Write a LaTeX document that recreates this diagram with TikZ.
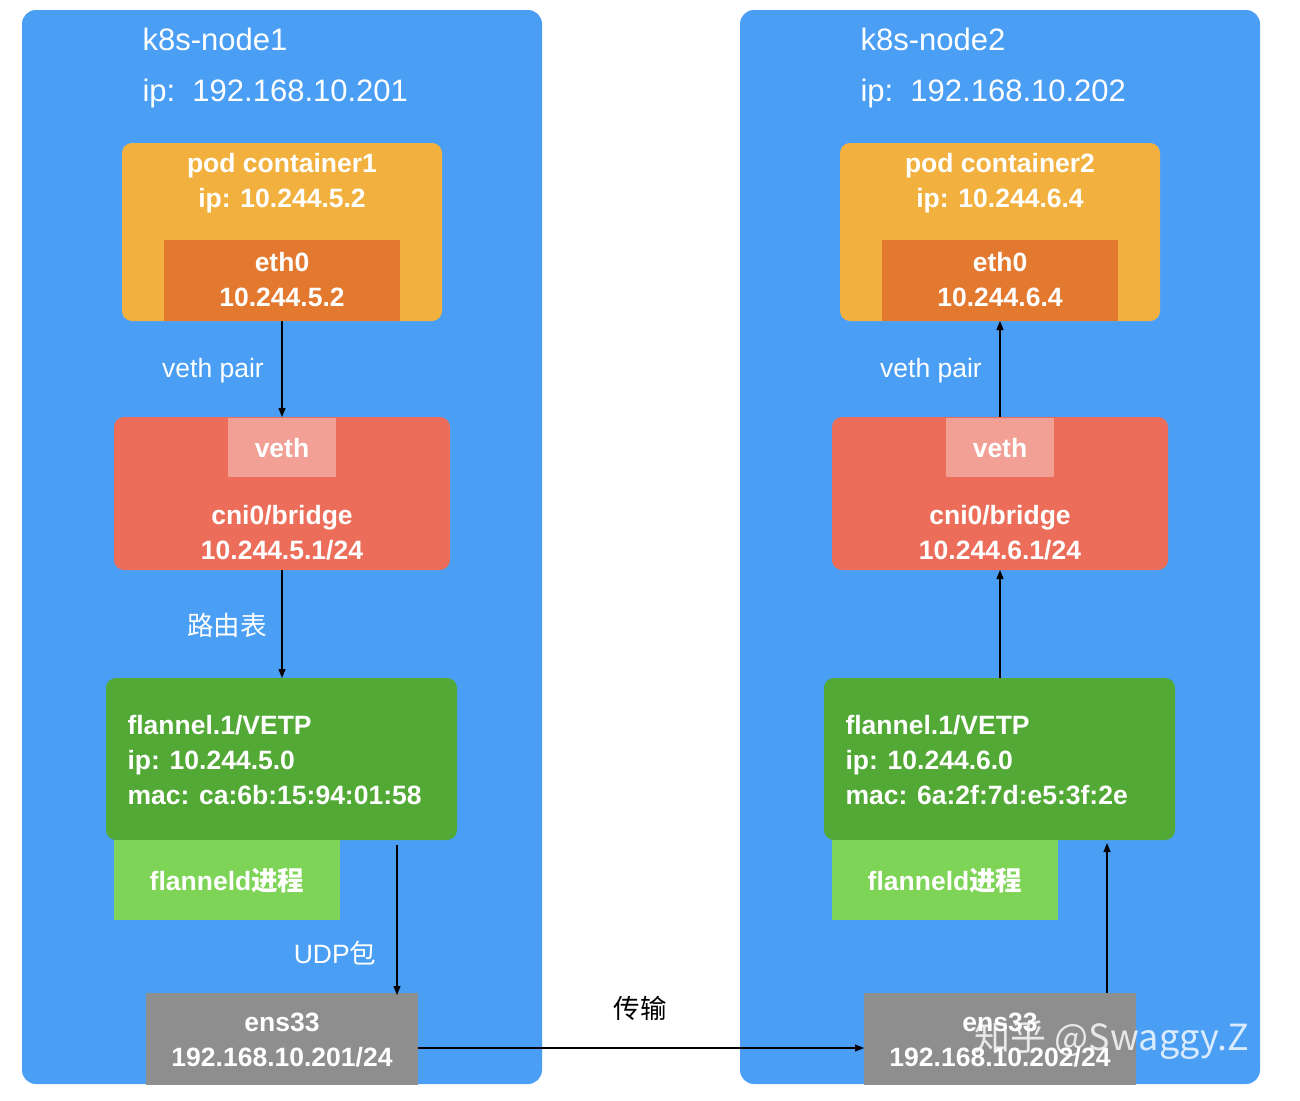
\documentclass[tikz,border=0pt]{standalone}
\usepackage{fontspec}
\setmainfont{Liberation Sans}
\newfontfamily\cjk{Noto Sans CJK SC}
\usetikzlibrary{arrows.meta}
\definecolor{nodeblue}{HTML}{4A9FF5}
\definecolor{podc}{HTML}{F2B13F}
\definecolor{ethc}{HTML}{E3782F}
\definecolor{brc}{HTML}{EC6E5A}
\definecolor{vethc}{HTML}{F2A096}
\definecolor{flc}{HTML}{52A935}
\definecolor{fldc}{HTML}{7ED456}
\definecolor{ensc}{HTML}{8E8E8E}
\tikzset{
 x=1pt,y=-1pt,
 big/.style={text=white,font=\fontsize{31}{36}\selectfont},
 bt/.style={text=white,font=\fontsize{26.5}{35}\selectfont\bfseries,align=center},
 lbl/.style={text=white,font=\fontsize{26.5}{30}\selectfont},
 arr/.style={-{Triangle[length=9pt,width=7pt]},line width=1.2pt,black},
}
\begin{document}
\begin{tikzpicture}
\useasboundingbox (0,0) rectangle (1300,1100);
\foreach \o/\n/\ip/\pip/\sub/\fip/\mac in {0/1/201/5.2/5/5.0/ca:6b:15:94:01:58,718/2/202/6.4/6/6.0/6a:2f:7d:e5:3f:2e}{
 \begin{scope}[xshift=\o]
 \fill[nodeblue,rounded corners=14pt] (22,10) rectangle (542,1084);
 \node[big,anchor=west] (t\n) at (139,39) {k8s-node\n};
 \node[big,anchor=west] (i\n) at (139,93) {ip:\ \ 192.168.10.\ip};
 \fill[podc,rounded corners=10pt] (122,143) rectangle (442,321);
 \node[bt] (pod\n) at (282,183) {pod container\n\\ip: 10.244.\pip};
 \fill[ethc] (164,240) rectangle (400,321);
 \node[bt] (eth\n) at (282,280) {eth0\\10.244.\pip};
 \coordinate (ethb\n) at (282,321);
 \fill[brc,rounded corners=10pt] (114,417) rectangle (450,570);
 \fill[vethc] (228,418) rectangle (336,477);
 \node[bt] (veth\n) at (282,448) {veth};
 \node[bt] (br\n) at (282,533) {cni0/bridge\\10.244.\sub.1/24};
 \coordinate (brt\n) at (282,417);
 \coordinate (brb\n) at (282,570);
 \node[lbl] (vp\n) at (213,371) {veth pair};
 \fill[flc,rounded corners=10pt] (106,678) rectangle (457,840);
 \node[bt,align=left,anchor=west] (fl\n) at (124,760) {flannel.1/VETP\\ip: 10.244.\fip\\mac: \mac};
 \coordinate (flt\n) at (282,678);
 \fill[fldc] (114,840) rectangle (340,920);
 \node[bt] (fld\n) at (227,881) {flanneld{\cjk 进程}};
 \fill[ensc] (146,993) rectangle (418,1085);
 \node[bt] (ens\n) at (282,1040) {ens33\\192.168.10.\ip/24};
 \coordinate (ensr\n) at (418,1048);
 \coordinate (ensl\n) at (146,1048);
 \end{scope}
}
\node[lbl,font=\fontsize{26.5}{30}\selectfont\cjk] (rt) at (227,625) {路由表};
\node[lbl] (udp) at (335,953) {UDP{\cjk 包}};
\coordinate (fb1) at (397,845);
\coordinate (eb1) at (397,995);
\draw[arr] (ethb1) -- (brt1);
\draw[arr] (brb1) -- (flt1);
\draw[arr] (fb1) -- (eb1);
\coordinate (et2) at (1107,993);
\coordinate (fb2) at (1107,843);
\draw[arr] (brt2) -- (ethb2);
\draw[arr] (flt2) -- (brb2);
\draw[arr] (et2) -- (fb2);
\draw[arr] (ensr1) -- (ensl2);
\node[font=\fontsize{26.5}{30}\selectfont\cjk] (cs) at (640,1008) {传输};
\node[text=white,opacity=0.8,font=\fontsize{36}{40}\selectfont\cjk] (wm) at (1112,1040) {知乎 @Swaggy.Z};
\end{tikzpicture}
\end{document}
